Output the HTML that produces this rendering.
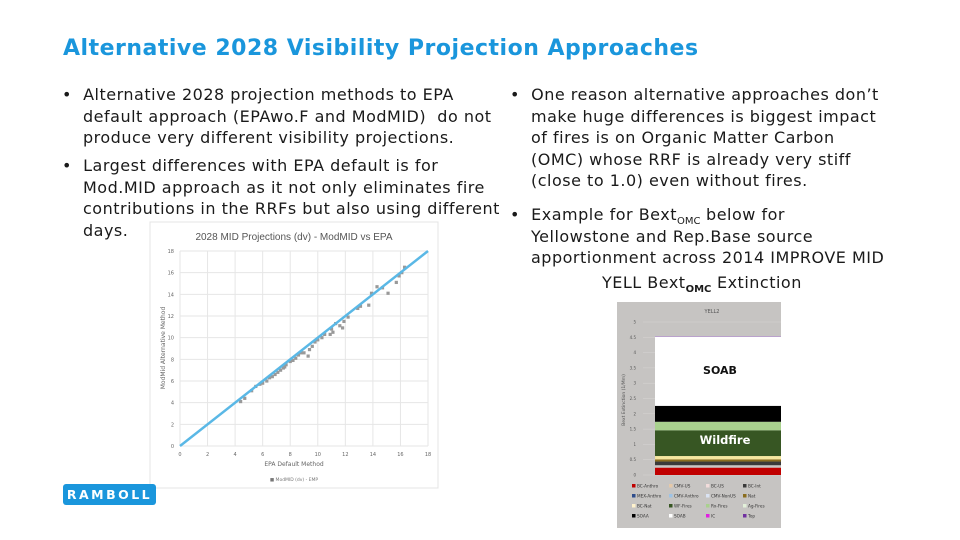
<!DOCTYPE html>
<html><head><meta charset="utf-8">
<style>
body{margin:0;width:960px;height:540px;background:#fff;position:relative;overflow:hidden;font-family:"DejaVu Sans","Liberation Sans",sans-serif;}
.t{position:absolute;white-space:nowrap;font-size:16px;color:#1a1a1a;letter-spacing:0.5px}
#title{position:absolute;left:63px;top:36px;font-size:22px;letter-spacing:0.5px;font-weight:bold;color:#1a96dc;white-space:nowrap}
sub{font-size:10px;letter-spacing:0}
</style></head><body>
<div id="title">Alternative 2028 Visibility Projection Approaches</div>

<div>
<div class="t" style="left:62px;top:85px">•&nbsp; Alternative 2028 projection methods to EPA</div>
<div class="t" style="left:83px;top:107px">default approach (EPAwo.F and ModMID)&nbsp; do not</div>
<div class="t" style="left:83px;top:128px">produce very different visibility projections.</div>
<div class="t" style="left:62px;top:156px">•&nbsp; Largest differences with EPA default is for</div>
<div class="t" style="left:83px;top:178px">Mod.MID approach as it not only eliminates fire</div>
<div class="t" style="left:83px;top:199px">contributions in the RRFs but also using different</div>
<div class="t" style="left:83px;top:221px">days.</div>
</div>
<div>
<div class="t" style="left:510px;top:85px">•&nbsp; One reason alternative approaches don’t</div>
<div class="t" style="left:531px;top:107px">make huge differences is biggest impact</div>
<div class="t" style="left:531px;top:128px">of fires is on Organic Matter Carbon</div>
<div class="t" style="left:531px;top:150px">(OMC) whose RRF is already very stiff</div>
<div class="t" style="left:531px;top:171px">(close to 1.0) even without fires.</div>
<div class="t" style="left:510px;top:205px">•&nbsp; Example for Bext<sub>OMC</sub> below for</div>
<div class="t" style="left:531px;top:227px">Yellowstone and Rep.Base source</div>
<div class="t" style="left:531px;top:248px">apportionment across 2014 IMPROVE MID</div>
<div class="t" style="left:602px;top:273px">YELL Bext<sub style="font-weight:bold">OMC</sub> Extinction</div>
</div>

<svg id="scatter" style="position:absolute;left:0;top:0" width="960" height="540"></svg>

<div style="position:absolute;left:63px;top:484px;width:93px;height:21px;background:#1a96dc;border-radius:3px;color:#fff;font-weight:bold;font-size:12.5px;letter-spacing:2.5px;line-height:21px;text-align:center">RAMBOLL</div>

<script>
const NS="http://www.w3.org/2000/svg";
const svg=document.getElementById('scatter');
function mk(t,a,p){const e=document.createElementNS(NS,t);for(const k in a)e.setAttribute(k,a[k]);(p||svg).appendChild(e);return e;}

// ---------- scatter chart data ----------
const xTicks=[0,2,4,6,8,10,12,14,16,18];
const yTicks=[0,2,4,6,8,10,12,14,16,18];
const epaX=[4.4,4.7,5.2,5.5,5.8,6,6.3,6.5,6.7,6.9,7.1,7.3,7.5,7.6,7.7,8,8.2,8.4,8.6,8.8,9,9.3,9.4,9.6,9.8,10,10.3,10.5,10.9,11,11.1,11.3,11.6,11.8,11.9,12.2,12.9,13.1,13.7,13.9,14.3,14.7,15.1,15.7,15.9,16.1,16.3];
const modY=[4.1,4.4,5.1,5.5,5.7,5.8,6.0,6.3,6.4,6.6,6.8,7.0,7.2,7.3,7.5,7.8,7.9,8.1,8.4,8.6,8.6,8.3,8.9,9.2,9.6,9.8,10.0,10.3,10.3,10.8,10.5,11.3,11.1,10.9,11.5,11.9,12.7,12.9,13.0,14.1,14.7,14.6,14.1,15.1,15.7,16.0,16.5];

const g1=mk('g',{});


mk('rect',{x:150,y:222,width:288,height:266,fill:'#fff',stroke:'#e4e4e4'},g1);
const px0=180,px1=428,py0=446,py1=251;
const sx=v=>px0+(v-0)/18*(px1-px0), sy=v=>py0-(v/18)*(py0-py1);
mk('text',{x:294,y:240,'font-size':10,fill:'#555','text-anchor':'middle','font-family':'Liberation Sans'},g1).textContent='2028 MID Projections (dv) - ModMID vs EPA';
xTicks.forEach(v=>{
  const l=mk('line',{x1:sx(v),x2:sx(v),y1:py1,y2:py0,stroke:'#e6e6e6'},g1);
  
  const t=mk('text',{x:sx(v),y:py0+10,'font-size':5,fill:'#666','text-anchor':'middle'},g1);t.textContent=v;
  
});
yTicks.forEach(v=>{
  const l=mk('line',{x1:px0,x2:px1,y1:sy(v),y2:sy(v),stroke:'#e6e6e6'},g1);
  
  const t=mk('text',{x:px0-6,y:sy(v)+2,'font-size':5,fill:'#666','text-anchor':'end'},g1);t.textContent=v;
  
});
let t=mk('text',{x:294,y:466,'font-size':6,fill:'#666','text-anchor':'middle'},g1);t.textContent='EPA Default Method';

t=mk('text',{x:165,y:348,'font-size':6,fill:'#666','text-anchor':'middle',transform:'rotate(-90 165 348)'},g1);t.textContent='ModMid Alternative Method';

t=mk('text',{x:294,y:481,'font-size':4.5,fill:'#777','text-anchor':'middle'},g1);t.textContent='■ ModMID (dv) - EMP';

epaX.forEach((v,i)=>{
  const r=mk('rect',{x:sx(v)-1.6,y:sy(modY[i])-1.6,width:3.2,height:3.2,fill:'#999'},g1);
  
});
const ln=mk('line',{x1:sx(0),y1:sy(0),x2:sx(18),y2:sy(18),stroke:'#5ab8e6','stroke-width':2.5},g1);


// ---------- stacked bar chart data ----------
const barTicks=[0,0.5,1,1.5,2,2.5,3,3.5,4,4.5,5];
const barTickLabels=['0','0.5','1','1.5','2','2.5','3','3.5','4','4.5','5'];
const segNames=['BC-Anthro','gap','BC-Int','Nat','BC-Nat','WF-Fires','Rx-Fires','SOAA','SOAB','Top'];
const segValues=[0.24,0.08,0.12,0.07,0.11,0.84,0.28,0.52,2.26,0.02];
const segColors=['#c00000','#c8c6c4','#3a3a3a','#8a6d1e','#f5e7a0','#375623','#a9d18e','#000000','#ffffff','#a07cc0'];
const legendItems=['BC-Anthro','CMV-US','BC-US','BC-Int','MEX-Anthro','CMV-Anthro','CMV-NonUS','Nat','BC-Nat','WF-Fires','Rx-Fires','Ag-Fires','SOAA','SOAB','IC','Top'];
const legendColors=['#c00000','#e6c9a8','#f2dcdb','#3a3a3a','#2e4d8c','#9dc3e6','#dae3f3','#8a6d1e','#fff2cc','#375623','#a9d18e','#e2f0d9','#000','#fff','#e020e0','#7030a0'];

const g2=mk('g',{});


mk('rect',{x:617,y:302,width:164,height:226,fill:'#c6c4c2'},g2);
const by0=475,by1=322,bx0=655,bx1=781;
const by=v=>by0-v/5*(by0-by1);
t=mk('text',{x:712,y:313,'font-size':5,fill:'#555','text-anchor':'middle'},g2);t.textContent='YELL2';
barTicks.forEach((v,i)=>{
  const l=mk('line',{x1:643,x2:bx1,y1:by(v),y2:by(v),stroke:'#d8d6d4','stroke-width':0.5},g2);
  
  const tt=mk('text',{x:636,y:by(v)+1.5,'font-size':4,fill:'#555','text-anchor':'end'},g2);tt.textContent=barTickLabels[i];
  
});
t=mk('text',{x:625,y:400,'font-size':4.5,fill:'#555','text-anchor':'middle',transform:'rotate(-90 625 400)'},g2);t.textContent='Bext Extinction (1/Mm)';
let acc=0;
segValues.forEach((v,i)=>{
  const r=mk('rect',{x:bx0,y:by(acc+v),width:bx1-bx0,height:by(acc)-by(acc+v),fill:segColors[i]},g2);
  
  acc+=v;
});
t=mk('text',{x:720,y:374,'font-size':11,fill:'#111','text-anchor':'middle','font-weight':'bold'},g2);t.textContent='SOAB';

t=mk('text',{x:725,y:444,'font-size':11.5,fill:'#fff','text-anchor':'middle','font-weight':'bold'},g2);t.textContent='Wildfire';

legendItems.forEach((n,i)=>{
  const c=i%4,r=Math.floor(i/4);
  const lx=632+c*37,ly=487+r*10;
  const s=mk('rect',{x:lx,y:ly-3,width:3.5,height:3.5,fill:legendColors[i]},g2);
  
  const tt=mk('text',{x:lx+5,y:ly+0.5,'font-size':4.2,fill:'#333'},g2);tt.textContent=n;
  
});
</script>
</body></html>
